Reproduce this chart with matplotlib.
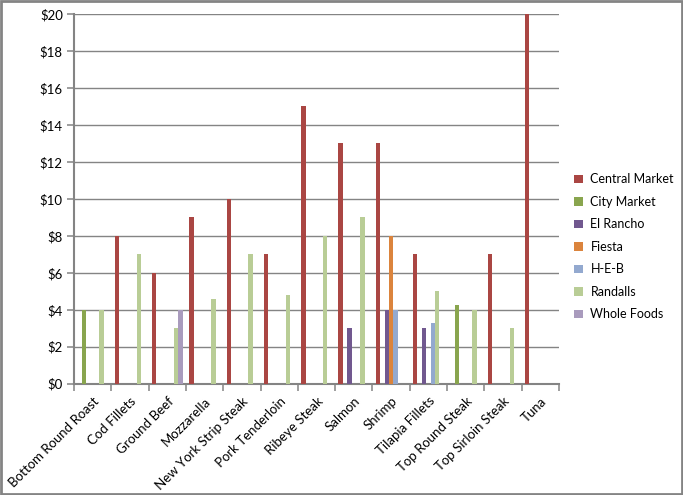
import matplotlib.pyplot as plt
from matplotlib.patches import Rectangle
import numpy as np

categories = ["Bottom Round Roast", "Cod Fillets", "Ground Beef", "Mozzarella",
              "New York Strip Steak", "Pork Tenderloin", "Ribeye Steak", "Salmon",
              "Shrimp", "Tilapia Fillets", "Top Round Steak", "Top Sirloin Steak", "Tuna"]
stores = ["Central Market", "City Market", "El Rancho", "Fiesta", "H-E-B",
          "Randalls", "Whole Foods"]

central_market = [0, 8, 6, 9, 10, 7, 15, 13, 13, 7, 0, 7, 20]
city_market    = [4, 0, 0, 0, 0, 0, 0, 0, 0, 0, 4.25, 0, 0]
el_rancho      = [0, 0, 0, 0, 0, 0, 0, 3, 4, 3, 0, 0, 0]
fiesta         = [0, 0, 0, 0, 0, 0, 0, 0, 8, 0, 0, 0, 0]
heb            = [0, 0, 0, 0, 0, 0, 0, 0, 4, 3.3, 0, 0, 0]
randalls       = [4, 7, 3, 4.6, 7, 4.8, 8, 9, 0, 5, 4, 3, 0]
whole_foods    = [0, 0, 4, 0, 0, 0, 0, 0, 0, 0, 0, 0, 0]

series = [central_market, city_market, el_rancho, fiesta, heb, randalls, whole_foods]
colors = ["#AA4643", "#89A54E", "#71588F", "#DB843D", "#93A9CF", "#B9CD96", "#A99BBD"]

plt.rcParams['font.family'] = ['Lato', 'DejaVu Sans']
grid_c = "#848484"

fig = plt.figure(figsize=(6.83, 4.95), dpi=100)
ax = fig.add_axes([74 / 683, 1 - 383.7 / 495, (559 - 74) / 683, (383.7 - 14) / 495])

x = np.arange(len(categories))
w = 1 / 8.5
handles = []
for i, (vals, c, name) in enumerate(zip(series, colors, stores)):
    b = ax.bar(x + (i - 3) * w, vals, width=w, color=c, label=name, zorder=3)
    handles.append(b)

ax.set_xlim(-0.5, len(categories) - 0.5)
ax.set_ylim(0, 20)
ax.set_yticks(range(0, 21, 2))
ax.set_yticklabels(["$%d" % v for v in range(0, 21, 2)])
ax.yaxis.grid(True, color=grid_c, linewidth=1.0, zorder=0)

ax.set_xticks(x)
ax.set_xticklabels(categories, rotation=45, ha='right', rotation_mode='anchor')
ax.set_xticks(np.arange(-0.5, len(categories), 1), minor=True)
ax.tick_params(axis='x', which='major', length=0, pad=8, labelsize=9.5)
ax.tick_params(axis='x', which='minor', length=5, width=1.1, color=grid_c, direction='out')
ax.tick_params(axis='y', length=5, width=1.1, color=grid_c, direction='out', pad=3, labelsize=9.5)

for s in ['top', 'right']:
    ax.spines[s].set_visible(False)
for s in ['left', 'bottom']:
    ax.spines[s].set_color(grid_c)
    ax.spines[s].set_linewidth(1.5)

leg = fig.legend(handles=handles, labels=stores, loc='upper left',
                 bbox_to_anchor=(563 / 683, 1 - 162 / 495), frameon=False,
                 fontsize=9, handlelength=0.7, handleheight=0.7,
                 handletextpad=0.6, labelspacing=0.84)

fig.patches.append(Rectangle((0.002, 0.003), 0.996, 0.994, transform=fig.transFigure,
                             fill=False, edgecolor=grid_c, linewidth=2))

fig.savefig("out.png", dpi=100)
